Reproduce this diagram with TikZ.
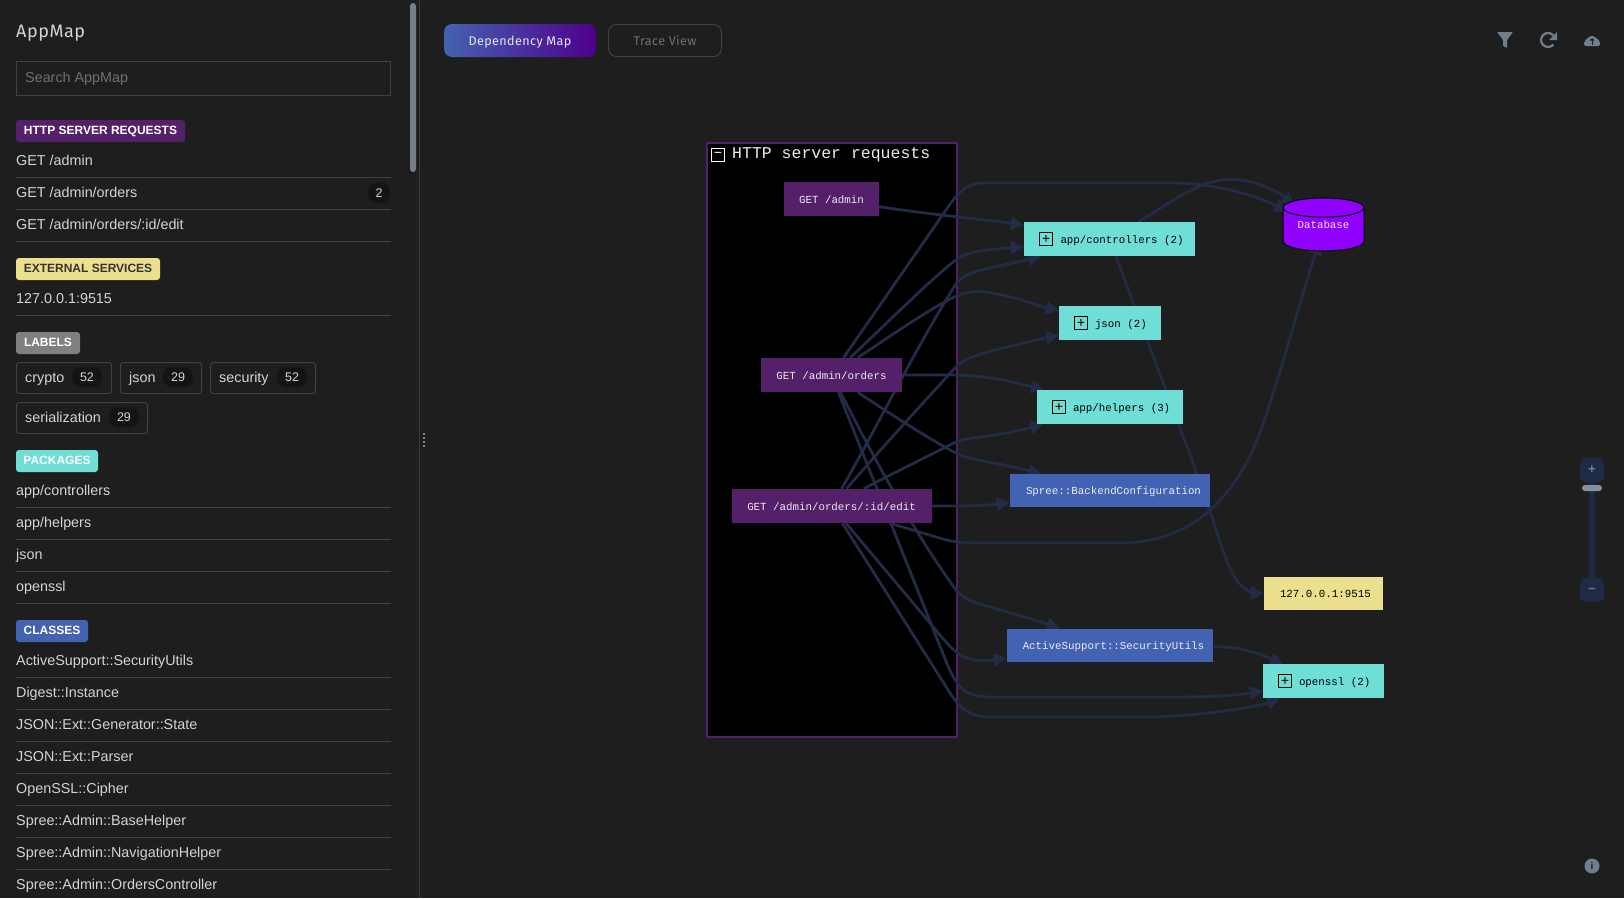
\documentclass[tikz,border=0pt]{standalone}
\usepackage{fontspec}
\setmainfont{Liberation Sans}
\newfontfamily\monofont{Liberation Mono}
\newfontfamily\uifont[LetterSpace=3]{Fira Sans}
\usetikzlibrary{arrows.meta,backgrounds,shapes.geometric}
\definecolor{pagebg}{HTML}{1E1E1E}
\definecolor{rowc}{HTML}{D4D4D4}
\definecolor{linec}{HTML}{3E404A}
\definecolor{reqc}{HTML}{54206A}
\definecolor{pkgc}{HTML}{6FDED6}
\definecolor{clsc}{HTML}{4362B1}
\definecolor{extc}{HTML}{ECE08E}
\definecolor{dbc}{HTML}{8F00FF}
\definecolor{edgec}{HTML}{232C46}
\definecolor{iconc}{HTML}{717E8E}
\definecolor{zoomc}{HTML}{1F2A44}
\begin{document}
\begin{tikzpicture}[x=1pt,y=-1pt,
    rowtext/.style={anchor=west,inner sep=0pt,text height=13pt,text depth=3pt,text=rowc,font=\fontsize{14.35}{16}\selectfont},
    rowline/.style={draw=linec,line width=1pt},
    badge/.style={rounded corners=3pt,inner sep=0pt,minimum height=22pt,text height=8.6pt,text depth=2pt,text=white,font=\bfseries\fontsize{12}{14}\selectfont},
    chip/.style={draw=linec,rounded corners=3pt,line width=1pt,minimum height=31pt,inner sep=0pt},
    pill/.style={fill=black!35!pagebg,rounded corners=9pt,inner sep=0pt,minimum height=20pt,text=rowc,font=\fontsize{12.5}{14}\selectfont},
    req/.style={fill=reqc,minimum height=34pt,inner sep=0pt,text height=8.5pt,text depth=.5pt,text=white!90!reqc,font=\monofont\fontsize{10.8}{13}\selectfont},
    pkg/.style={fill=pkgc,minimum height=34pt,inner sep=0pt,text height=8.5pt,text depth=.5pt,align=flush left,text=black,font=\monofont\fontsize{10.8}{13}\selectfont},
    cls/.style={fill=clsc,minimum height=33pt,inner sep=0pt,text height=8.5pt,text depth=.5pt,align=flush left,text=white!88!clsc,font=\monofont\fontsize{10.8}{13}\selectfont},
    expand/.style={draw=black,line width=.7pt,minimum size=13pt,inner sep=0pt,text=black,font=\monofont\fontsize{14}{14}\selectfont},
    edge/.style={draw=edgec,line width=2.8pt,-{Triangle[length=13pt,width=13pt]}},
    tabbtn/.style={rounded corners=8pt,inner sep=0pt,text height=10pt,text depth=0pt,font=\uifont\fontsize{12.6}{15}\selectfont},
    zoombtn/.style={fill=zoomc,rounded corners=6pt,minimum size=24pt,inner sep=0pt,text=iconc,font=\bfseries\fontsize{13}{13}\selectfont}]
  \useasboundingbox (0,0) rectangle (1624,898);
  \begin{scope}[on background layer]
    \fill[pagebg] (0,0) rectangle (1624,898);
    \node[fill=black,draw=reqc,line width=2pt,minimum width=250pt,minimum height=594pt,inner sep=0pt] (http) at (831.5,440) {};
  \end{scope}

  % sidebar
  \fill[iconc!60!gray,rounded corners=3pt] (410,3) rectangle (416,172);
  \draw[linec!80!pagebg,line width=1pt] (419.5,0) -- (419.5,898);
  \draw[gray,line width=1.5pt,dash pattern=on 2pt off 2pt] (424,433) -- (424,447);
  \node[anchor=west,inner sep=0pt,text=rowc,font=\uifont\fontsize{18}{20}\selectfont] (title) at (16,33) {AppMap};
  \node[draw=linec,line width=1pt,minimum width=374pt,minimum height=34pt,inner sep=0pt] (search) at (203.5,78.5) {};
  \node[rowtext,text=gray!85!pagebg] (searchtext) at (25,77) {Search AppMap};

  \node[badge,fill=reqc,minimum width=169pt] (bhttp) at (100.5,131) {HTTP SERVER REQUESTS};
  \node[badge,fill=extc,text=black!80,minimum width=144pt] (bext) at (88,269) {EXTERNAL SERVICES};
  \node[badge,fill=gray,minimum width=64pt] (blabel) at (48,343) {LABELS};
  \node[badge,fill=pkgc,minimum width=82pt] (bpkg) at (57,461) {PACKAGES};
  \node[badge,fill=clsc,minimum width=72pt] (bcls) at (52,631) {CLASSES};

  \begin{scope}[every node/.style={rowtext}]
    \node (r1) at (16,160) {GET /admin};
    \node (r2) at (16,192) {GET /admin/orders};
    \node (r3) at (16,224) {GET /admin/orders/:id/edit};
    \node (r4) at (16,298) {127.0.0.1:9515};
    \node (r5) at (16,490) {app/controllers};
    \node (r6) at (16,522) {app/helpers};
    \node (r7) at (16,554) {json};
    \node (r8) at (16,586) {openssl};
    \node (r9) at (16,660) {ActiveSupport::SecurityUtils};
    \node (r10) at (16,692) {Digest::Instance};
    \node (r11) at (16,724) {JSON::Ext::Generator::State};
    \node (r12) at (16,756) {JSON::Ext::Parser};
    \node (r13) at (16,788) {OpenSSL::Cipher};
    \node (r14) at (16,820) {Spree::Admin::BaseHelper};
    \node (r15) at (16,852) {Spree::Admin::NavigationHelper};
    \node (r16) at (16,884) {Spree::Admin::OrdersController};
    \node (c1) at (25,377) {crypto};
    \node (c2) at (129,377) {json};
    \node (c3) at (219,377) {security};
    \node (c4) at (25,417) {serialization};
  \end{scope}
  \draw[rowline] (16,177.5) -- (391,177.5);
  \draw[rowline] (16,209.5) -- (391,209.5);
  \draw[rowline] (16,241.5) -- (391,241.5);
  \draw[rowline] (16,315.5) -- (391,315.5);
  \draw[rowline] (16,507.5) -- (391,507.5);
  \draw[rowline] (16,539.5) -- (391,539.5);
  \draw[rowline] (16,571.5) -- (391,571.5);
  \draw[rowline] (16,603.5) -- (391,603.5);
  \draw[rowline] (16,677.5) -- (391,677.5);
  \draw[rowline] (16,709.5) -- (391,709.5);
  \draw[rowline] (16,741.5) -- (391,741.5);
  \draw[rowline] (16,773.5) -- (391,773.5);
  \draw[rowline] (16,805.5) -- (391,805.5);
  \draw[rowline] (16,837.5) -- (391,837.5);
  \draw[rowline] (16,869.5) -- (391,869.5);

  \node[chip,minimum width=95pt] (chip1) at (64,378) {};
  \node[chip,minimum width=81pt] (chip2) at (161,378) {};
  \node[chip,minimum width=105pt] (chip3) at (263,378) {};
  \node[chip,minimum width=131pt] (chip4) at (82,418) {};
  \node[pill,minimum width=22pt] (p0) at (379,193) {2};
  \node[pill,minimum width=30pt] (p1) at (87,377) {52};
  \node[pill,minimum width=30pt] (p2) at (178,377) {29};
  \node[pill,minimum width=30pt] (p3) at (292,377) {52};
  \node[pill,minimum width=30pt] (p4) at (124,417) {29};

  % toolbar
  \node[tabbtn,left color=clsc,right color=dbc!55!black,minimum width=152pt,minimum height=33pt,text=white!85!clsc] (depmap) at (520,40.5) {Dependency Map};
  \node[tabbtn,draw=linec,line width=1pt,minimum width=113pt,minimum height=32pt,text=gray!85!pagebg] (trace) at (665,40.5) {Trace View};
  \fill[iconc,rounded corners=.8pt] (1497,32) -- (1513,32) -- (1507,40) -- (1507,48) -- (1503,46) -- (1503,40) -- cycle;
  \draw[iconc,line width=2.2pt] (1553.4,35.5) arc[start angle=40,end angle=320,radius=7pt];
  \fill[iconc] (1557,32) -- (1557,40) -- (1549,40) -- cycle;
  \fill[iconc,rounded corners=2pt] (1584,46) -- (1584,41) -- (1588,38) -- (1592,35) -- (1596,38) -- (1600,41) -- (1600,46) -- cycle;
  \draw[pagebg,line width=1pt] (1592,44.5) -- (1592,39.5);
  \fill[pagebg] (1589.5,40.5) -- (1592,38) -- (1594.5,40.5) -- cycle;

  % zoom control
  \fill[zoomc] (1589,480) rectangle (1595,580);
  \node[zoombtn] (zoomin) at (1592,470) {+};
  \node[zoombtn] (zoomout) at (1592,590) {–};
  \node[fill=iconc!85!white,rounded corners=3pt,minimum width=20pt,minimum height=6pt,inner sep=0pt] (zoomthumb) at (1592,488) {};
  \node[circle,fill=iconc,minimum size=15pt,inner sep=0pt,text=pagebg,font=\bfseries\fontsize{10}{10}\selectfont] (info) at (1592,866) {i};

  % graph
  \node[anchor=west,inner sep=0pt,text=white!92!black,font=\monofont\fontsize{16.5}{18}\selectfont] (httplabel) at (732,155) {HTTP server requests};
  \node[expand,draw=white,text=white] (httpbox) at (718,155) {−};
  \node[req,minimum width=95pt] (adm) at (831.5,199) {GET /admin};
  \node[req,minimum width=141pt] (ord) at (831.5,375) {GET /admin/orders};
  \node[req,minimum width=200pt] (edt) at (831.5,506) {GET /admin/orders/:id/edit};
  \node[pkg,text width=171pt] (ctl) at (1109.5,239) {\hspace*{36.5pt}app/controllers (2)};
  \node[pkg,text width=102pt] (jsn) at (1110,323) {\hspace*{36pt}json (2)};
  \node[pkg,text width=146pt] (hlp) at (1110,407) {\hspace*{36pt}app/helpers (3)};
  \node[pkg,text width=121pt] (ssl) at (1323.5,681) {\hspace*{36pt}openssl (2)};
  \node[cls,text width=200pt] (bkc) at (1110,490.5) {\hspace*{16pt}Spree::BackendConfiguration};
  \node[cls,text width=206.5pt] (sec) at (1110,645) {\hspace*{16pt}ActiveSupport::SecurityUtils};
  \node[cls,fill=extc,text=black,text width=119pt] (ext) at (1323.5,593.5) {\hspace*{16pt}127.0.0.1:9515};
  \node[cylinder,shape border rotate=90,aspect=.37,draw=black,line width=1pt,fill=dbc,minimum height=53pt,minimum width=81pt,inner sep=0pt,text height=2pt,text depth=5pt,text=white!88!dbc,font=\monofont\fontsize{10.8}{13}\selectfont] (db) at (1323.5,229.5) {Database};
  \node[expand] (ctlbox) at (1046,239) {+};
  \node[expand] (jsnbox) at (1081,323) {+};
  \node[expand] (hlpbox) at (1059,407) {+};
  \node[expand] (sslbox) at (1285,681) {+};

  \begin{scope}[on background layer,every path/.style={edge}]
    \path (adm) .. controls (900,210) and (940,215) .. (976,219) .. controls (995,221) and (1010,223) .. (ctl);
    \path[shorten >=-6pt] (ord) -- (948,207) .. controls (960,190) and (968,183) .. (985,183) -- (1170,183) .. controls (1215,183) and (1255,195) .. (db);
    \path (ord) .. controls (880,330) and (935,275) .. (956,260) .. controls (968,251) and (985,250) .. (ctl);
    \path (ord) .. controls (880,343) and (925,312) .. (945,302) .. controls (958,294) and (970,290) .. (985,292) .. controls (1015,296) and (1035,305) .. (jsn);
    \path (ord) -- (950,375) .. controls (985,375) and (1010,381) .. (hlp);
    \path (ord) .. controls (880,407) and (930,440) .. (956,453) .. controls (968,460) and (985,460) .. (bkc);
    \path (ord) -- (947.5,665) .. controls (958,690) and (968,697) .. (990,697) -- (1150,697) .. controls (1200,697) and (1225,697) .. (ssl);
    \path (ord) .. controls (860,430) and (905,520) .. (956,590) .. controls (968,605) and (990,605) .. (sec);
    \path (edt) .. controls (870,440) and (920,340) .. (956,284) .. controls (966,270) and (990,269) .. (ctl);
    \path (edt) .. controls (880,450) and (930,395) .. (956,367) .. controls (966,356) and (985,352) .. (jsn);
    \path (edt) .. controls (880,480) and (930,455) .. (956,442) .. controls (966,437) and (990,438) .. (hlp);
    \path (edt) -- (955,506) .. controls (975,506) and (990,505) .. (bkc);
    \path[shorten >=-10pt] (edt) -- (945,539.6) .. controls (958,543) and (970,543) .. (990,543) -- (1120,543) .. controls (1190,543) and (1235,500) .. (1261,430) .. controls (1282,370) and (1300,300) .. (db);
    \path (edt) -- (940,635) .. controls (958,657) and (968,663) .. (sec);
    \path (edt) -- (945,685) .. controls (958,707) and (968,717) .. (990,717) -- (1140,717) .. controls (1200,717) and (1260,706) .. (ssl);
    \path (sec) .. controls (1240,647) and (1255,652) .. (ssl);
    \path[shorten >=-6pt] (ctl) .. controls (1175,200) and (1205,175) .. (1240,180) .. controls (1265,183) and (1282,195) .. (db);
    \path (ctl) -- (1205,495) .. controls (1218,535) and (1228,575) .. (1243,587) .. controls (1248,591) and (1252,593) .. (ext);
  \end{scope}
\end{tikzpicture}
\end{document}
